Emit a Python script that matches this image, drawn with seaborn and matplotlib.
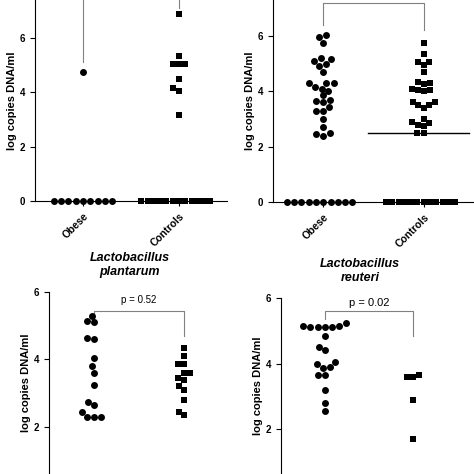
import matplotlib
matplotlib.use('Agg')
import matplotlib.pyplot as plt
import seaborn as sns
import pandas as pd

plt.rcParams['font.family'] = ['Liberation Sans', 'DejaVu Sans']

GROUPS = ['Obese', 'Controls']

# top-left panel
tl_obese = [4.75] + [0.0] * 9
tl_controls = [6.9, 5.35, 5.05, 5.05, 5.05, 4.5, 4.05, 4.15, 3.15] + [0.0] * 12

# top-right panel
tr_obese = [5.95, 6.05, 5.75, 5.2, 5.15, 5.1, 5.0, 4.9, 4.7, 4.3, 4.3, 4.3, 4.15,
            4.1, 4.0, 3.85, 3.7, 3.65, 3.6, 3.45, 3.3, 3.3, 3.0, 2.7, 2.45, 2.4,
            2.5] + [0.0] * 10
tr_controls = [5.75, 5.35, 5.05, 5.05, 4.95, 4.7, 4.35, 4.25, 4.05, 4.0, 4.05, 4.1,
               4.3, 3.6, 3.5, 3.4, 3.5, 3.6, 2.9, 2.85, 2.8, 3.0, 2.75, 2.5,
               2.5] + [0.0] * 12

# L. plantarum
bl_obese = [5.3, 5.1, 5.15, 4.65, 4.6, 4.05, 3.8, 3.6, 3.25, 2.75, 2.65, 2.45,
            2.3, 2.3, 2.3]
bl_controls = [4.35, 4.1, 3.85, 3.85, 3.6, 3.6, 3.4, 3.45, 3.2, 3.1, 2.8, 2.45, 2.35]

# L. reuteri
br_obese = [5.25, 5.15, 5.1, 5.1, 5.1, 5.1, 5.15, 4.85, 4.5, 4.4, 4.0, 4.05, 3.9,
            3.85, 3.65, 3.65, 3.2, 2.8, 2.55]
br_controls = [3.6, 3.6, 3.65, 2.9, 1.7]

W = 474.0


def make_ax(fig, left, right, top, bottom):
    return fig.add_axes([left / W, 1 - bottom / W, (right - left) / W, (bottom - top) / W])


def dots(ax, obese, controls, ylim, yticks, xlabels=True):
    df = pd.DataFrame({'group': ['Obese'] * len(obese) + ['Controls'] * len(controls),
                       'value': obese + controls})
    sns.swarmplot(data=df[df.group == 'Obese'], x='group', y='value', order=GROUPS,
                  marker='o', color='black', size=5, ax=ax, warn_thresh=1, clip_on=False)
    sns.swarmplot(data=df[df.group == 'Controls'], x='group', y='value', order=GROUPS,
                  marker='s', color='black', size=4.3, ax=ax, warn_thresh=1, clip_on=False)
    ax.set_xlim(-0.5, 1.5)
    ax.set_ylim(*ylim)
    ax.set_yticks(yticks)
    ax.set_yticklabels([str(t) for t in yticks], fontsize=7, fontweight='bold')
    ax.set_xlabel('')
    ax.set_ylabel('log copies DNA/ml', fontsize=8, fontweight='bold', labelpad=2)
    ax.spines['top'].set_visible(False)
    ax.spines['right'].set_visible(False)
    if xlabels:
        ax.set_xticks([0, 1])
        ax.set_xticklabels(GROUPS, rotation=45, ha='right', rotation_mode='anchor',
                           fontsize=7.5, fontweight='bold')
    else:
        ax.spines['bottom'].set_visible(False)
        ax.set_xticks([])


fig = plt.figure(figsize=(4.74, 4.74), dpi=100)

ax1 = make_ax(fig, 35, 227, 0, 201)
dots(ax1, tl_obese, tl_controls, (0, 7.4), [0, 2, 4, 6])
ax1.plot([0, 0], [5.1, 7.4], color='gray', lw=0.8, clip_on=False)
ax1.plot([1, 1], [7.1, 7.4], color='gray', lw=0.8, clip_on=False)

ax2 = make_ax(fig, 273, 474, 0, 202)
dots(ax2, tr_obese, tr_controls, (0, 7.3), [0, 2, 4, 6])
ax2.plot([0, 0, 1, 1], [6.4, 7.2, 7.2, 6.2], color='gray', lw=0.8)
ax2.plot([0.45, 1.45], [2.5, 2.5], color='black', lw=1)

ax3 = make_ax(fig, 49, 229, 292, 474)
dots(ax3, bl_obese, bl_controls, (0.6, 6), [2, 4, 6], xlabels=False)
ax3.plot([0, 0, 1, 1], [5.35, 5.45, 5.45, 4.7], color='gray', lw=0.8)
ax3.text(0.5, 5.6, 'p = 0.52', ha='center', va='bottom', fontsize=7)
ax3.set_title('Lactobacillus\nplantarum', fontsize=9, fontweight='bold',
              fontstyle='italic', pad=12, x=0.45, linespacing=1.25)

ax4 = make_ax(fig, 281, 457, 298, 474)
dots(ax4, br_obese, br_controls, (0.63, 6), [2, 4, 6], xlabels=False)
ax4.plot([0, 0, 1, 1], [5.35, 5.6, 5.6, 4.85], color='gray', lw=0.8)
ax4.text(0.5, 5.7, 'p = 0.02', ha='center', va='bottom', fontsize=8)
ax4.set_title('Lactobacillus\nreuteri', fontsize=9, fontweight='bold',
              fontstyle='italic', pad=12, x=0.45, linespacing=1.25)

fig.savefig('out.png', dpi=100)
